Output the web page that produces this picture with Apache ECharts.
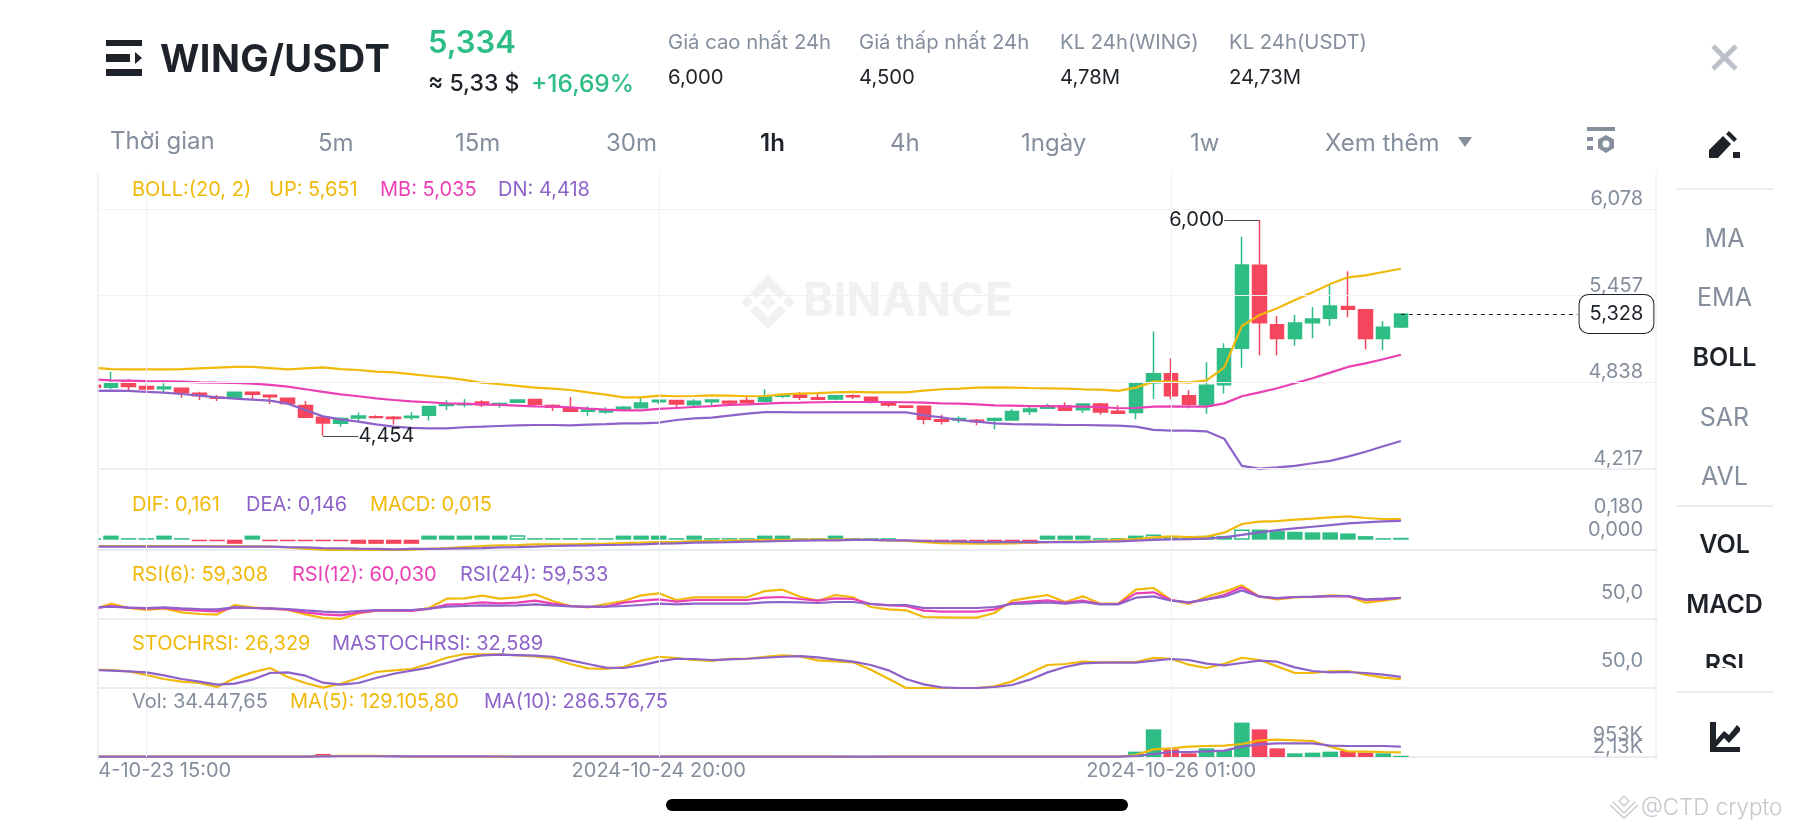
<!DOCTYPE html>
<html>
<head>
<meta charset="utf-8">
<title>WING/USDT</title>
<script src="https://cdn.jsdelivr.net/npm/echarts@6/dist/echarts.min.js"></script>
<style>
    html, body { margin: 0; width: 1793px; height: 828px; background: #fff; overflow: hidden; font-family: Inter, sans-serif; }
    #chart { position: absolute; left: 0; top: 0; width: 1793px; height: 828px; }
    .t { position: absolute; white-space: nowrap; line-height: 1; transform: translateY(-50%); color: #848E9C; }
    .dark { color: #1E2329; }
    .green { color: #2EBD85; }
    .head { font-size: 20.3px; }
    .tab { font-size: 24px; }
    .side { position: absolute; left: 1676px; width: 97px; text-align: center; font-size: 25px; line-height: 1; transform: translateY(-50%); color: #848E9C; }
    .side.on { color: #1E2329; font-weight: 600; }
    .sep { position: absolute; left: 1676px; width: 97px; height: 2px; background: #EAECEF; }
    svg { position: absolute; }
</style>
</head>
<body>
<div id="chart"></div>

<svg style="left:106px;top:40px" width="36" height="36" viewBox="0 0 36 36" fill="#1E2329">
    <rect x="0" y="0" width="36" height="6"/><rect x="0" y="14" width="24" height="8"/>
    <rect x="0" y="29" width="36" height="7"/><path d="M29 12 L36 18 L29 24 Z"/>
</svg>
<div class="t dark" style="left:160px;top:58px;font-size:38px;font-weight:700;letter-spacing:0.4px">WING/USDT</div>
<div class="t green" style="left:428px;top:41px;font-size:31px;font-weight:600">5,334</div>
<div class="t dark" style="left:428px;top:83px;font-size:23px;font-weight:500">≈ 5,33 $</div>
<div class="t green" style="left:531px;top:83px;font-size:24.5px;font-weight:500">+16,69%</div>

<div class="t head" style="left:668px;top:42px">Giá cao nhất 24h</div>
<div class="t head dark" style="left:668px;top:77px">6,000</div>
<div class="t head" style="left:859px;top:42px">Giá thấp nhất 24h</div>
<div class="t head dark" style="left:859px;top:77px">4,500</div>
<div class="t head" style="left:1060px;top:42px">KL 24h(WING)</div>
<div class="t head dark" style="left:1060px;top:77px">4,78M</div>
<div class="t head" style="left:1229px;top:42px">KL 24h(USDT)</div>
<div class="t head dark" style="left:1229px;top:77px">24,73M</div>

<svg style="left:1711px;top:44px" width="27" height="27" viewBox="0 0 27 27" stroke="#BDC2CA" stroke-width="5">
    <path d="M2 2 L25 25 M25 2 L2 25"/>
</svg>

<div class="t tab" style="left:110px;top:141px">Thời gian</div>
<div class="t tab" style="left:318px;top:143px">5m</div>
<div class="t tab" style="left:455px;top:143px">15m</div>
<div class="t tab" style="left:606px;top:143px">30m</div>
<div class="t tab dark" style="left:760px;top:143px;font-weight:600">1h</div>
<div class="t tab" style="left:890px;top:143px">4h</div>
<div class="t tab" style="left:1021px;top:143px">1ngày</div>
<div class="t tab" style="left:1190px;top:143px">1w</div>
<div class="t tab" style="left:1325px;top:143px">Xem thêm</div>
<svg style="left:1458px;top:137px" width="14" height="10" viewBox="0 0 14 10" fill="#848E9C"><path d="M0 0 H14 L7 10 Z"/></svg>

<svg style="left:1587px;top:127px" width="28" height="26" viewBox="0 0 28 26" fill="#848E9C">
    <rect x="0" y="0" width="28" height="4"/><rect x="0" y="10" width="6" height="4"/><rect x="0" y="19" width="6" height="4"/>
    <path d="M19 8 L27 12.5 V21 L19 26 L11 21 V12.5 Z M19 13.5 A3.5 3.5 0 1 0 19 20.5 A3.5 3.5 0 1 0 19 13.5 Z" fill-rule="evenodd"/>
</svg>
<svg style="left:1709px;top:131px" width="31" height="27" viewBox="0 0 31 27" fill="#1E2329">
    <path d="M0 27 V19 L14 5 L22 13 L9 27 Z M17 3 L20 0 L28 8 L25 11 Z"/><rect x="24" y="21" width="7" height="6"/>
</svg>

<div class="sep" style="top:188px"></div>
<div class="side" style="top:238px">MA</div>
<div class="side" style="top:297px">EMA</div>
<div class="side on" style="top:357px">BOLL</div>
<div class="side" style="top:417px">SAR</div>
<div class="side" style="top:476px">AVL</div>
<div class="sep" style="top:505px"></div>
<div class="side on" style="top:544px">VOL</div>
<div class="side on" style="top:604px">MACD</div>
<div style="position:absolute;left:1676px;top:640px;width:97px;height:28px;overflow:hidden">
    <div class="side on" style="left:0;top:24px">RSI</div>
</div>
<div class="sep" style="top:691px"></div>
<svg style="left:1710px;top:722px" width="30" height="30" viewBox="0 0 30 30" fill="#1E2329">
    <path d="M0 0 H6 V18 L14 9 L19 13 L27 3 L30 6 V9 L19 21 L14 16 L6 25 H30 V30 H0 Z"/>
</svg>

<div style="position:absolute;left:666px;top:799px;width:462px;height:12px;border-radius:6px;background:#000"></div>
<svg style="left:1609px;top:795px" width="30" height="24" viewBox="0 0 30 24" fill="none" stroke="#C4C8CE" stroke-width="1.3">
    <path d="M15 1 L20 6 L15 11 L10 6 Z M4 7 L15 18 L26 7 M1 10 L15 23 L29 10"/>
</svg>
<div class="t" style="left:1641px;top:807px;font-size:22.4px;color:#C4C8CE;font-weight:300">@CTD crypto</div>

<script>
// candles: [open, close, low, high], one row per hour
const candles = [
    [4.816,4.802,4.783,4.831],[4.802,4.835,4.788,4.914],[4.840,4.807,4.783,4.859],[4.807,4.790,4.776,4.831],[4.792,4.804,4.754,4.831],
    [4.795,4.764,4.728,4.800],[4.759,4.742,4.711,4.771],[4.730,4.723,4.704,4.747],[4.728,4.766,4.726,4.769],[4.766,4.752,4.716,4.771],
    [4.745,4.735,4.683,4.750],[4.723,4.687,4.685,4.726],[4.671,4.587,4.580,4.704],[4.587,4.547,4.454,4.597],[4.544,4.578,4.520,4.587],
    [4.582,4.597,4.561,4.621],[4.592,4.585,4.578,4.602],[4.587,4.578,4.535,4.597],[4.585,4.594,4.568,4.625],[4.602,4.664,4.563,4.668],
    [4.671,4.678,4.640,4.709],[4.678,4.685,4.659,4.718],[4.697,4.678,4.661,4.709],[4.678,4.687,4.656,4.695],[4.695,4.711,4.692,4.716],
    [4.714,4.680,4.664,4.716],[4.671,4.659,4.633,4.680],[4.654,4.630,4.628,4.733],[4.630,4.640,4.599,4.666],[4.625,4.640,4.613,4.659],
    [4.645,4.659,4.640,4.668],[4.656,4.690,4.654,4.730],[4.699,4.709,4.683,4.711],[4.707,4.683,4.652,4.709],[4.678,4.702,4.664,4.716],
    [4.699,4.711,4.668,4.711],[4.702,4.690,4.676,4.709],[4.707,4.692,4.690,4.742],[4.702,4.733,4.699,4.788],[4.738,4.742,4.726,4.754],
    [4.747,4.730,4.711,4.769],[4.728,4.716,4.711,4.754],[4.718,4.742,4.709,4.745],[4.742,4.735,4.718,4.752],[4.730,4.695,4.687,4.733],
    [4.690,4.676,4.661,4.697],[4.668,4.659,4.656,4.668],[4.666,4.573,4.537,4.668],[4.570,4.559,4.535,4.606],[4.568,4.578,4.547,4.594],
    [4.566,4.556,4.530,4.575],[4.566,4.578,4.501,4.585],[4.568,4.628,4.563,4.647],[4.628,4.647,4.604,4.666],[4.652,4.661,4.649,4.685],
    [4.668,4.637,4.635,4.695],[4.642,4.683,4.618,4.687],[4.683,4.625,4.606,4.692],[4.630,4.616,4.611,4.673],[4.621,4.831,4.573,4.835],
    [4.835,4.900,4.719,5.201],[4.900,4.742,4.716,5.010],[4.742,4.680,4.652,4.781],[4.675,4.816,4.611,4.981],[4.821,5.079,4.757,5.117],
    [5.081,5.678,4.943,5.881],[5.676,5.265,5.031,6.000],[5.251,5.151,5.031,5.313],[5.151,5.263,5.100,5.322],[5.265,5.291,5.153,5.377],
    [5.296,5.384,5.241,5.535],[5.380,5.361,5.303,5.633],[5.358,5.151,5.072,5.361],[5.151,5.232,5.067,5.277],[5.234,5.328,5.227,5.332]
];
const bollUp = [
    4.943,4.933,4.931,4.931,4.931,4.933,4.938,4.943,4.948,4.948,4.940,4.931,4.938,4.945,4.933,4.926,4.914,4.909,4.897,4.883,
    4.871,4.855,4.835,4.824,4.812,4.800,4.792,4.783,4.766,4.750,4.730,4.730,4.742,4.738,4.740,4.745,4.742,4.738,4.740,4.752,
    4.757,4.761,4.766,4.769,4.766,4.766,4.766,4.778,4.788,4.792,4.800,4.802,4.800,4.797,4.795,4.792,4.788,4.785,4.776,4.800,
    4.843,4.843,4.835,4.852,4.943,5.241,5.320,5.368,5.427,5.482,5.542,5.590,5.604,5.628,5.651
];
const bollMid = [
    4.859,4.852,4.850,4.847,4.845,4.843,4.838,4.835,4.833,4.828,4.819,4.807,4.788,4.769,4.752,4.738,4.723,4.711,4.702,4.695,
    4.687,4.685,4.680,4.676,4.671,4.666,4.664,4.659,4.649,4.642,4.637,4.637,4.647,4.654,4.661,4.668,4.676,4.680,4.685,4.690,
    4.692,4.695,4.697,4.697,4.697,4.697,4.695,4.692,4.687,4.685,4.680,4.673,4.671,4.668,4.668,4.666,4.664,4.661,4.652,4.654,
    4.664,4.666,4.664,4.664,4.687,4.738,4.766,4.795,4.831,4.867,4.907,4.948,4.974,5.003,5.035
];
const bollDown = [
    4.776,4.778,4.776,4.769,4.764,4.754,4.742,4.730,4.721,4.714,4.707,4.685,4.640,4.594,4.573,4.556,4.537,4.520,4.511,4.508,
    4.508,4.516,4.520,4.525,4.530,4.532,4.532,4.530,4.535,4.539,4.544,4.544,4.549,4.568,4.580,4.585,4.599,4.613,4.625,4.625,
    4.623,4.623,4.623,4.623,4.623,4.623,4.623,4.602,4.587,4.568,4.556,4.544,4.539,4.537,4.535,4.532,4.532,4.530,4.528,4.520,
    4.497,4.492,4.492,4.487,4.434,4.239,4.220,4.229,4.239,4.258,4.275,4.306,4.341,4.380,4.418
];
const macdHist = [
    0.012,0.032,0.012,0.012,0.032,0.012,-0.012,-0.012,-0.032,0.032,-0.012,-0.012,-0.012,-0.012,-0.012,-0.032,-0.032,-0.032,-0.032,0.032,
    0.032,0.032,0.032,0.032,0.035,0.012,0.012,0.012,0.012,0.012,0.032,0.032,0.032,0.012,0.032,0.012,0.012,0.012,0.032,0.032,
    0.012,0.012,0.032,0.012,0.012,0.012,-0.012,-0.012,-0.012,-0.012,-0.01,-0.032,-0.032,-0.032,0.032,0.032,0.032,0.012,0.012,0.032,
    0.04,0.02,0.016,0.03,0.03,0.079,0.079,0.067,0.062,0.057,0.057,0.049,0.028,0.012,0.015
];
const macdHollow = [24, 60, 65];
const macdDif = [
    -0.049,-0.049,-0.049,-0.049,-0.049,-0.049,-0.049,-0.052,-0.052,-0.052,-0.054,-0.059,-0.070,-0.078,-0.083,-0.083,-0.085,-0.083,-0.078,-0.072,
    -0.065,-0.057,-0.049,-0.044,-0.041,-0.036,-0.036,-0.036,-0.033,-0.031,-0.026,-0.023,-0.018,-0.018,-0.010,-0.010,-0.007,-0.005,-0.002,-0.002,
    0,0,0,0,-0.002,-0.005,-0.010,-0.018,-0.026,-0.028,-0.031,-0.031,-0.028,-0.023,-0.018,-0.015,-0.013,-0.010,-0.002,0.005,
    0.018,0.026,0.021,0.024,0.055,0.122,0.140,0.145,0.156,0.164,0.174,0.182,0.169,0.161,0.161
];
const macdDea = [
    -0.054,-0.054,-0.054,-0.054,-0.054,-0.054,-0.054,-0.054,-0.054,-0.054,-0.054,-0.057,-0.059,-0.065,-0.067,-0.070,-0.072,-0.075,-0.072,-0.072,
    -0.070,-0.067,-0.065,-0.059,-0.057,-0.054,-0.049,-0.046,-0.044,-0.041,-0.039,-0.036,-0.031,-0.028,-0.023,-0.020,-0.018,-0.015,-0.013,-0.010,
    -0.007,-0.005,-0.005,-0.002,-0.002,-0.005,-0.005,-0.010,-0.013,-0.015,-0.018,-0.018,-0.018,-0.018,-0.018,-0.018,-0.018,-0.015,-0.013,-0.007,
    -0.002,0.003,0.005,0.008,0.018,0.037,0.057,0.075,0.088,0.101,0.114,0.127,0.135,0.143,0.146
];
const rsi6 = [
    37.9,48.7,40.5,36.6,39.8,32.2,29.0,27.8,46.2,41.7,39.2,36.6,28.4,21.4,19.5,30.3,35.4,36.0,35.4,40.5,
    58.2,58.9,64.0,58.2,60.8,66.5,53.8,44.3,41.7,48.1,53.8,64.6,68.4,55.7,60.8,60.8,60.8,60.8,72.8,75.4,
    62.0,54.4,65.2,60.8,42.4,37.9,36.0,23.3,22.7,22.1,22.1,30.9,54.4,60.1,65.2,51.9,62.7,48.7,48.7,75.4,
    78.6,55.7,48.1,62.0,71.6,83.6,62.0,57.0,60.8,61.4,64.6,63.3,50.6,54.4,59.3
];
const rsi12 = [
    39.8,44.3,41.1,39.2,40.5,37.3,35.4,34.1,41.7,40.5,39.2,37.3,32.2,28.4,26.5,31.6,35.4,35.4,34.7,38.6,
    46.8,48.1,51.3,49.3,50.6,54.4,48.7,44.3,42.4,43.0,50.6,54.4,57.0,52.5,55.7,55.7,55.7,55.7,60.1,61.4,
    57.6,54.4,58.9,57.6,48.1,45.5,44.3,35.4,33.5,33.5,33.5,37.9,50.0,52.5,55.1,50.6,54.4,48.1,48.1,68.4,
    70.3,55.7,50.6,57.0,65.2,79.8,62.0,58.9,61.4,61.4,62.7,62.7,55.7,57.0,60.0
];
const rsi24 = [
    41.1,43.0,41.1,40.5,41.7,39.8,38.6,37.9,41.7,40.5,39.8,38.6,36.0,33.5,32.2,34.7,36.6,36.6,36.6,39.2,
    43.0,44.3,45.5,44.9,45.5,47.4,45.5,43.6,43.0,43.0,44.3,46.2,48.7,47.4,48.7,48.7,48.7,48.7,51.3,51.9,
    51.3,50.0,51.9,51.9,48.1,46.2,46.2,40.5,40.5,40.5,40.5,42.4,48.1,49.3,51.3,48.7,51.9,47.4,47.4,60.1,
    62.7,54.4,51.3,57.0,62.0,74.1,62.0,59.5,61.4,62.0,63.3,63.3,57.0,58.2,59.5
];
const stochRsi = [
    53.9,52.9,49,38.2,26.5,18.6,14.7,3,28.4,46,58.8,32.3,14.7,1,12.7,29.4,47,52,55.9,71.5,
    89,100,99,99,96,93,87,70.6,57.8,55.9,61.7,80.4,92,88,82.3,79.4,86,86,92,96,
    93,81.3,78.4,75.5,53.9,27.4,0,0,0,0,0,4.9,19.6,44.1,67.6,70.6,77.4,75.5,76.4,76.4,
    89,86,68.6,58.8,71.5,89,82.3,63.7,44.1,44.1,49,50,39.2,30.4,26.3
];
const maStochRsi = [
    52.9,51,49,46,37,26.5,18.6,9.8,12.7,24.5,44.1,46,36.3,15.7,9.8,14.7,29.4,42,51,59.8,
    73.5,88,96,98,97,95,92,81.3,70.6,59.8,58.8,66.6,78.4,86,85.3,82.3,84.3,86,89,92,
    94,90,83.3,77.4,67.6,52,26.5,10.8,2,0,0,3,8.8,24.5,46,61.7,72.5,74.5,74.5,74.5,
    80.4,85.3,82.3,71.5,66.6,73.5,80.4,77.4,60.8,50,46,47,44.1,39.2,32.6
];
const volume = [
    14000,11000,9000,7000,9000,13000,8000,6000,9000,7000,8000,12000,26000,85000,24000,12000,9000,8000,9000,15000,
    12000,9000,8000,7000,10000,9000,8000,12000,7000,6000,7000,11000,8000,9000,10000,7000,6000,7000,14000,6000,
    8000,7000,6000,5000,11000,9000,6000,16000,8000,6000,7000,9000,15000,10000,8000,7000,9000,10000,7000,148000,
    766000,212000,102000,240000,194000,953000,766000,240000,102000,120000,148000,166000,120000,102000,34447.65
];
const volMa5 = [
    12000,11000,11000,10000,10000,10000,9000,9000,9000,9000,8000,9000,12000,28000,34000,33000,32000,28000,13000,11000,
    11000,11000,11000,10000,9000,9000,9000,9000,9000,8000,8000,8000,8000,8000,9000,9000,8000,8000,9000,8000,
    8000,8000,8000,7000,7000,8000,8000,9000,9000,9000,9000,8000,10000,11000,10000,10000,9000,9000,8000,55000,
    212000,240000,286000,305000,314000,360000,462000,480000,462000,443000,286000,157000,148000,138000,129105.8
];
const volMa10 = [
    13000,13000,12000,12000,11000,11000,11000,10000,10000,10000,9000,9000,10000,18000,21000,21000,21000,20000,20000,20000,
    20000,19000,19000,14000,12000,10000,10000,10000,9000,9000,9000,9000,8000,8000,9000,9000,9000,8000,9000,8000,
    8000,8000,8000,8000,8000,8000,8000,8000,8000,8000,9000,9000,9000,9000,9000,9000,9000,9000,9000,28000,
    83000,138000,138000,157000,175000,286000,351000,379000,379000,379000,314000,305000,305000,305000,286576.75
];

const priceTicks = [4.217, 4.838, 5.457, 6.078];
const macdTicks = [0, 0.18];
const rsiTicks = [50];
const stochTicks = [50];
const volTicks = [2130];
const dateTickIndexes = [3, 32, 61];
const lastPrice = 5.328;
const lowPoint = [13, 4.454];
const highPoint = [66, 6.000];

const UP = '#2EBD85', DOWN = '#F6465D', YELLOW = '#F0B90B', PINK = '#EB40B5', PURPLE = '#8D63C9';
const GRAY = '#848E9C', DARK = '#1E2329', LINE = '#F0F1F3', BORDER = '#EAECEF';
const CHART_FONT = 'Inter';
const CHART_TEXT = 20;

// hourly slots, including the empty room right of the last candle
const SLOTS = 89;
let categories = [];
for (let i = 0; i < SLOTS; i++) {
    let d = new Date(Date.UTC(2024, 9, 23, 12 + i));
    let pad = n => String(n).padStart(2, '0');
    categories.push(d.getUTCFullYear() + '-' + pad(d.getUTCMonth() + 1) + '-' + pad(d.getUTCDate())
        + ' ' + pad(d.getUTCHours()) + ':00');
}

// panel edges: [top, bottom]
const panels = [[173, 469], [469, 550], [550, 619], [619, 688], [688, 757]];
const yRanges = [[4.217, 6.337], [-0.08, 0.55], [19.5, 151], [0, 203], [0, 1911300]];
const yTicks = [priceTicks, macdTicks, rsiTicks, stochTicks, volTicks];
const tickDigits = [3, 3, 1, 1, 0];

function tickText(panel, v) {
    if (panel === 4) {
        return (v / 1000).toFixed(2).replace('.', ',') + 'K';
    }
    return v.toFixed(tickDigits[panel]).replace('.', ',');
}

function guides(gridIndex, hValues) {
    let data = dateTickIndexes.map(i => ({xAxis: i}));
    (hValues || []).forEach(v => data.push({yAxis: v}));
    return {
        type: 'line',
        xAxisIndex: gridIndex,
        yAxisIndex: gridIndex,
        data: [],
        z: 1,
        markLine: {
            silent: true,
            symbol: 'none',
            animation: false,
            label: {show: false},
            lineStyle: {color: LINE, width: 1, type: 'solid'},
            data: data
        }
    };
}

function line(gridIndex, data, color, z) {
    return {
        type: 'line',
        xAxisIndex: gridIndex,
        yAxisIndex: gridIndex,
        data: data,
        showSymbol: false,
        z: z || 4,
        lineStyle: {color: color, width: 2.2},
        itemStyle: {color: color}
    };
}

function leader(point, toIndex, text) {
    return [
        {coord: point, lineStyle: {color: '#474D57', width: 1, type: 'solid'}, label: {show: true, position: 'end', formatter: text, color: DARK, fontSize: CHART_TEXT, fontFamily: CHART_FONT, distance: 0}},
        {coord: [toIndex, point[1]]}
    ];
}

function legendItems(y, items) {
    return items.map(it => ({
        type: 'text',
        z: 20,
        style: {x: it[0], y: y, text: it[1], fill: it[2], font: CHART_TEXT + 'px ' + CHART_FONT, verticalAlign: 'middle'}
    }));
}

function logoPart(points) {
    return {type: 'polygon', z: 0, shape: {points: points}, style: {fill: '#F0F1F3'}};
}

const chart = echarts.init(document.getElementById('chart'));
chart.setOption({
    backgroundColor: '#fff',
    animation: false,
    grid: panels.map(p => ({left: 84.5, width: 1572.6, top: p[0], height: p[1] - p[0]})),
    xAxis: panels.map((p, i) => ({
        type: 'category',
        gridIndex: i,
        data: categories,
        axisTick: {show: false},
        splitLine: {show: false},
        axisLine: {onZero: false, lineStyle: {color: BORDER, width: i === 0 ? 1 : 2}},
        axisLabel: {
            show: i === 4,
            interval: idx => dateTickIndexes.indexOf(idx) >= 0,
            color: GRAY,
            fontSize: CHART_TEXT,
            fontFamily: CHART_FONT,
            margin: 4
        }
    })),
    yAxis: panels.map((p, i) => ({
        type: 'value',
        gridIndex: i,
        position: 'right',
        min: yRanges[i][0],
        max: yRanges[i][1],
        splitLine: {show: false},
        axisTick: {show: false},
        axisLine: {show: false},
        axisLabel: {
            inside: true,
            customValues: yTicks[i],
            verticalAlign: 'bottom',
            margin: 14,
            color: GRAY,
            fontSize: CHART_TEXT,
            fontFamily: CHART_FONT,
            formatter: v => tickText(i, v)
        }
    })),
    series: [
        guides(0, priceTicks),
        guides(1), guides(2), guides(3), guides(4),
        {
            type: 'candlestick',
            data: candles,
            barWidth: 14,
            z: 3,
            itemStyle: {color: UP, color0: DOWN, borderColor: UP, borderColor0: DOWN, borderWidth: 1.5}
        },
        line(0, bollUp, YELLOW), line(0, bollMid, PINK), line(0, bollDown, PURPLE),
        {
            type: 'line',
            data: [],
            z: 6,
            markLine: {
                silent: true,
                symbol: 'none',
                animation: false,
                data: [
                    leader(highPoint, 64, '6,000'),
                    leader(lowPoint, 15, '4,454'),
                    [
                        {
                            coord: [74, lastPrice],
                            lineStyle: {color: DARK, width: 1, type: [4, 4]},
                            label: {
                                show: true,
                                position: 'end',
                                distance: 2,
                                formatter: lastPrice.toFixed(3).replace('.', ','),
                                color: DARK,
                                fontSize: CHART_TEXT,
                                fontFamily: CHART_FONT,
                                backgroundColor: '#fff',
                                borderColor: DARK,
                                borderWidth: 1,
                                borderRadius: 9,
                                padding: [9, 10, 9, 10]
                            }
                        },
                        {coord: [84, lastPrice]}
                    ]
                ]
            }
        },
        {
            type: 'bar',
            xAxisIndex: 1,
            yAxisIndex: 1,
            barWidth: 15.5,
            z: 3,
            data: macdHist.map((v, i) => {
                let color = v >= 0 ? UP : DOWN;
                if (macdHollow.indexOf(i) >= 0) {
                    return {value: v, itemStyle: {color: '#fff', borderColor: color, borderWidth: 1.5}};
                }
                return {value: v, itemStyle: {color: color}};
            })
        },
        line(1, macdDif, YELLOW), line(1, macdDea, PURPLE),
        line(2, rsi6, YELLOW), line(2, rsi12, PINK), line(2, rsi24, PURPLE),
        line(3, stochRsi, YELLOW), line(3, maStochRsi, PURPLE),
        {
            type: 'bar',
            xAxisIndex: 4,
            yAxisIndex: 4,
            barWidth: 15.5,
            z: 3,
            data: volume.map((v, i) => ({
                value: v,
                itemStyle: {color: candles[i][1] >= candles[i][0] ? UP : DOWN}
            }))
        },
        line(4, volMa5, YELLOW), line(4, volMa10, PURPLE)
    ],
    graphic: [
        // the oldest candle runs off the left edge
        {type: 'rect', z: 15, shape: {x: 0, y: 160, width: 97.5, height: 640}, style: {fill: '#fff'}},
        {type: 'line', z: 16, shape: {x1: 98, y1: 173, x2: 98, y2: 760}, style: {stroke: BORDER, lineWidth: 1.5}},
        {type: 'line', z: 16, shape: {x1: 1656, y1: 172, x2: 1656, y2: 760}, style: {stroke: BORDER, lineWidth: 1}},
        // watermark
        {type: 'text', z: 0, style: {x: 803, y: 302, text: 'BINANCE', fill: '#F0F1F3', font: '700 46px ' + CHART_FONT, verticalAlign: 'middle'}},
        logoPart([[768, 294], [776, 302], [768, 310], [760, 302]]),
        logoPart([[747, 296], [753, 302], [747, 308], [741, 302]]),
        logoPart([[789, 296], [795, 302], [789, 308], [783, 302]]),
        logoPart([[768, 275], [786, 293], [780, 299], [768, 287], [756, 299], [750, 293]]),
        logoPart([[768, 329], [786, 311], [780, 305], [768, 317], [756, 305], [750, 311]]),
        // volume top label sits below its tick in the reference
        {type: 'text', z: 20, style: {x: 1643, y: 735, text: '953K', fill: GRAY, font: CHART_TEXT + 'px ' + CHART_FONT, align: 'right', verticalAlign: 'middle'}}
    ].concat(
        legendItems(190, [[132, 'BOLL:(20, 2)', YELLOW], [269, 'UP: 5,651', YELLOW], [380, 'MB: 5,035', PINK], [498, 'DN: 4,418', PURPLE]]),
        legendItems(505, [[132, 'DIF: 0,161', YELLOW], [246, 'DEA: 0,146', PURPLE], [370, 'MACD: 0,015', YELLOW]]),
        legendItems(575, [[132, 'RSI(6): 59,308', YELLOW], [292, 'RSI(12): 60,030', PINK], [460, 'RSI(24): 59,533', PURPLE]]),
        legendItems(644, [[132, 'STOCHRSI: 26,329', YELLOW], [332, 'MASTOCHRSI: 32,589', PURPLE]]),
        legendItems(702, [[132, 'Vol: 34.447,65', GRAY], [290, 'MA(5): 129.105,80', YELLOW], [484, 'MA(10): 286.576,75', PURPLE]])
    )
});
</script>
</body>
</html>
